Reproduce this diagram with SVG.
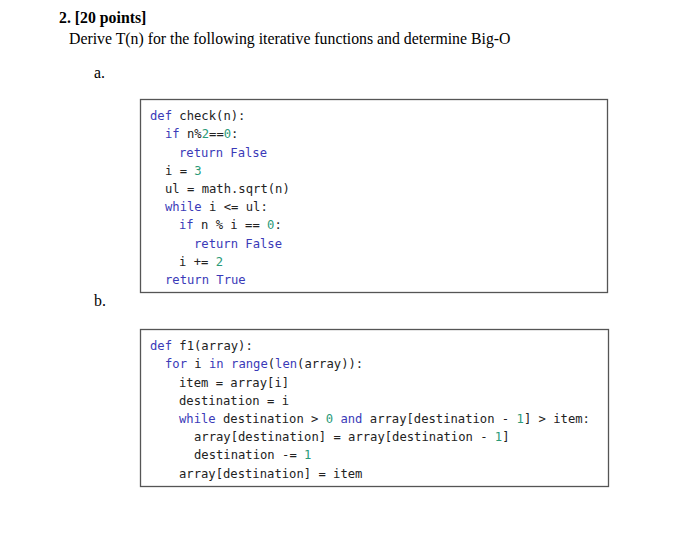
<svg xmlns="http://www.w3.org/2000/svg" width="700" height="552" viewBox="0 0 700 552">
<style>
.t{font-family:"Liberation Serif",serif;font-size:15.8px;fill:#000}
.c{font-family:"DejaVu Sans Mono","Liberation Mono",monospace;font-size:12.2px;fill:#222}
.k{fill:#3a3ab8}.n{fill:#2a9a78}
.box{fill:#fff;stroke:#555;stroke-width:1.3}
</style>
<rect width="700" height="552" fill="#fff"/>
<text class="t" x="59" y="23" font-weight="bold">2.  [20 points]</text>
<text class="t" x="69" y="44">Derive T(n) for the following iterative functions and determine Big-O</text>
<text class="t" x="94" y="78" font-size="14">a.</text>
<text class="t" x="94" y="306" font-size="14">b.</text>
<g id="codeA">
<rect class="box" x="140.5" y="99.5" width="467" height="193"/>
<text class="c" x="150" y="120"><tspan class="k">def</tspan> check(n):</text>
<text class="c" x="165" y="138"><tspan class="k">if</tspan> n%<tspan class="n">2</tspan>==<tspan class="n">0</tspan>:</text>
<text class="c" x="179" y="157"><tspan class="k">return False</tspan></text>
<text class="c" x="165" y="175">i = <tspan class="n">3</tspan></text>
<text class="c" x="165" y="193">ul = math.sqrt(n)</text>
<text class="c" x="165" y="211"><tspan class="k">while</tspan> i &lt;= ul:</text>
<text class="c" x="179" y="229"><tspan class="k">if</tspan> n % i == <tspan class="n">0</tspan>:</text>
<text class="c" x="194" y="248"><tspan class="k">return False</tspan></text>
<text class="c" x="179" y="266">i += <tspan class="n">2</tspan></text>
<text class="c" x="165" y="284"><tspan class="k">return True</tspan></text>
</g>
<g id="codeB">
<rect class="box" x="140.5" y="329.5" width="468" height="157"/>
<text class="c" x="150" y="350"><tspan class="k">def</tspan> f1(array):</text>
<text class="c" x="165" y="368"><tspan class="k">for</tspan> i <tspan class="k">in</tspan> <tspan class="k">range</tspan>(<tspan class="k">len</tspan>(array)):</text>
<text class="c" x="179" y="387">item = array[i]</text>
<text class="c" x="179" y="405">destination = i</text>
<text class="c" x="179" y="423"><tspan class="k">while</tspan> destination &gt; <tspan class="n">0</tspan> <tspan class="k">and</tspan> array[destination - <tspan class="n">1</tspan>] &gt; item:</text>
<text class="c" x="194" y="441">array[destination] = array[destination - <tspan class="n">1</tspan>]</text>
<text class="c" x="194" y="459">destination -= <tspan class="n">1</tspan></text>
<text class="c" x="179" y="478">array[destination] = item</text>
</g>
</svg>
